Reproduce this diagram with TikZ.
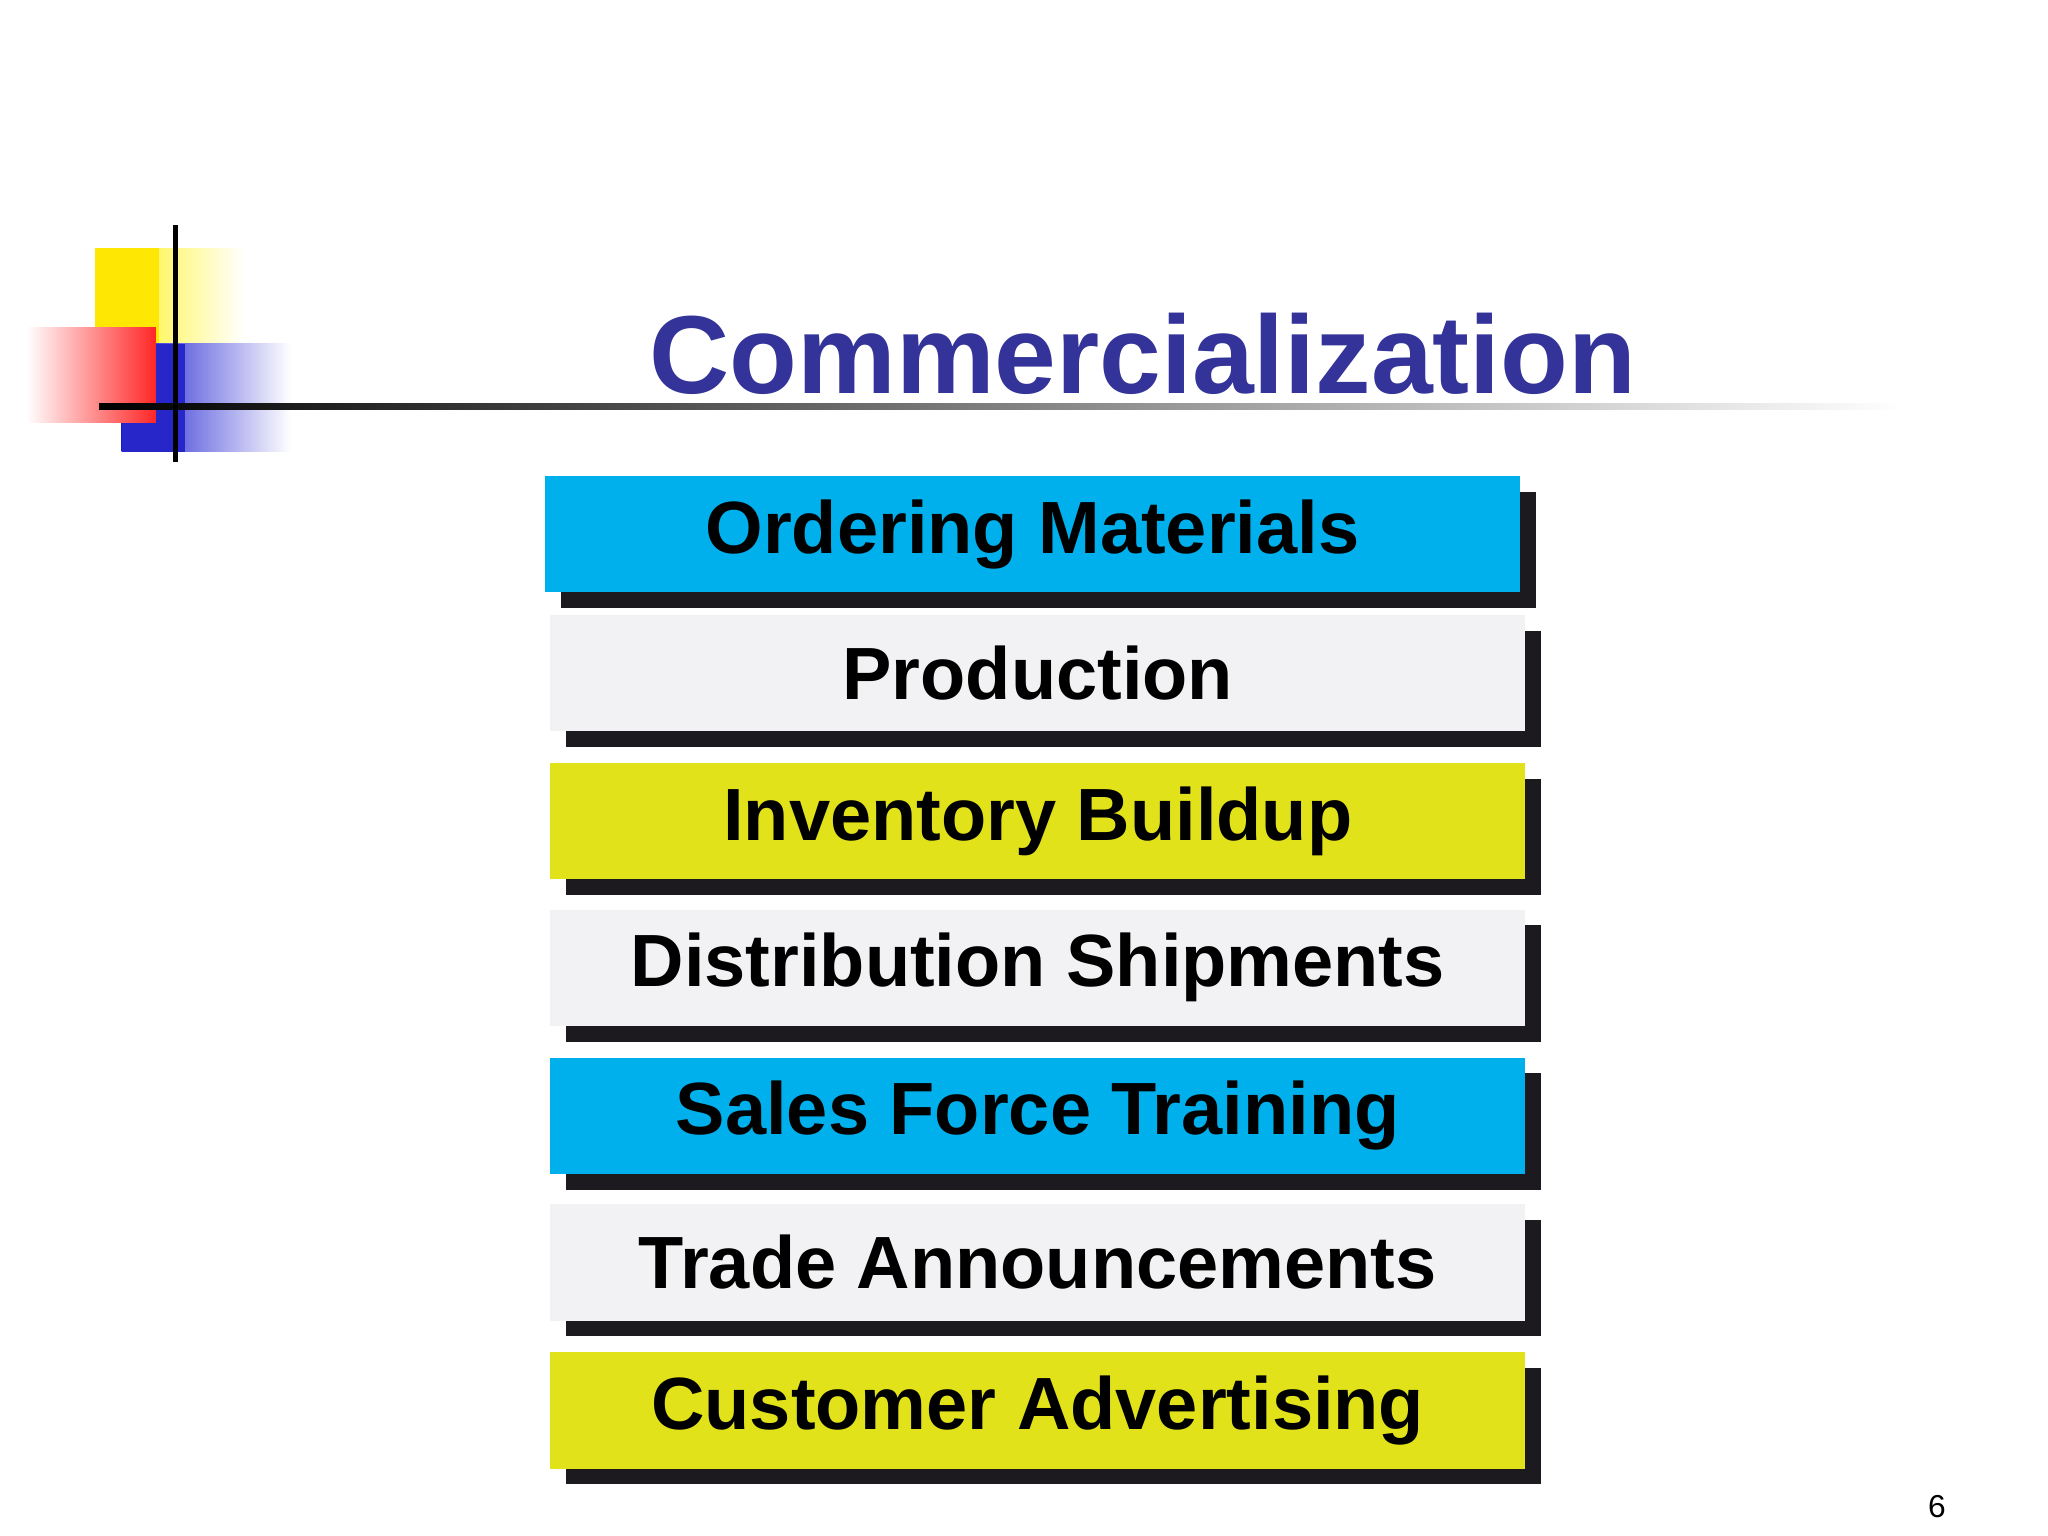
\documentclass[tikz,border=0pt]{standalone}
\usepackage{fontspec}
\setmainfont{Liberation Sans}
\begin{document}
\begin{tikzpicture}[x=0.5pt,y=-0.5pt]
\definecolor{tblue}{HTML}{333399}
\definecolor{cyanb}{HTML}{00B0EC}
\definecolor{yel}{HTML}{E2E21A}
\definecolor{gry}{HTML}{F2F1F4}
\definecolor{shd}{HTML}{1C1A1F}
\tikzset{
 rowbox/.style={minimum width=369pt,minimum height=44pt,inner sep=0pt,font=\fontsize{28}{32}\selectfont\bfseries,text=black},
 shadowbox/.style={fill=shd,minimum width=369pt,minimum height=44pt,inner sep=0pt}
}
\useasboundingbox (0,0) rectangle (1550,1162);
\fill[white] (0,0) rectangle (1550,1162);
% logo
\shade[left color=yellow!90!orange,right color=white] (72,188) rectangle (185,290);
\fill[yellow!90!orange] (72,188) rectangle (120,290);
\shade[left color=blue!80!black!90,right color=white] (92,260) rectangle (220,342);
\fill[blue!75!black!85] (92,260) rectangle (140,342);
\shade[left color=white,right color=red!85] (20,248) rectangle (118,320);
\shade[left color=black,right color=white] (75,305) rectangle (1440,310);
\fill[black] (131,170) rectangle (135,350);
\node[font=\fontsize{42}{48}\selectfont\bfseries,text=tblue] (title) at (865,268) {Commercialization};
% rows
\foreach \y/\c/\t/\x [count=\i] in {360/cyanb/Ordering Materials/412,465/gry/Production/416,577/yel/Inventory Buildup/416,688/gry/Distribution Shipments/416,800/cyanb/Sales Force Training/416,911/gry/Trade Announcements/416,1023/yel/Customer Advertising/416}{
 \node[shadowbox,anchor=north west] (s\i) at (\x+12,\y+12) {};
 \node[rowbox,fill=\c,anchor=north west] (r\i) at (\x,\y) {\t};
}
\node[font=\fontsize{12}{14}\selectfont] (pg) at (1466,1140) {6};
\end{tikzpicture}
\end{document}
